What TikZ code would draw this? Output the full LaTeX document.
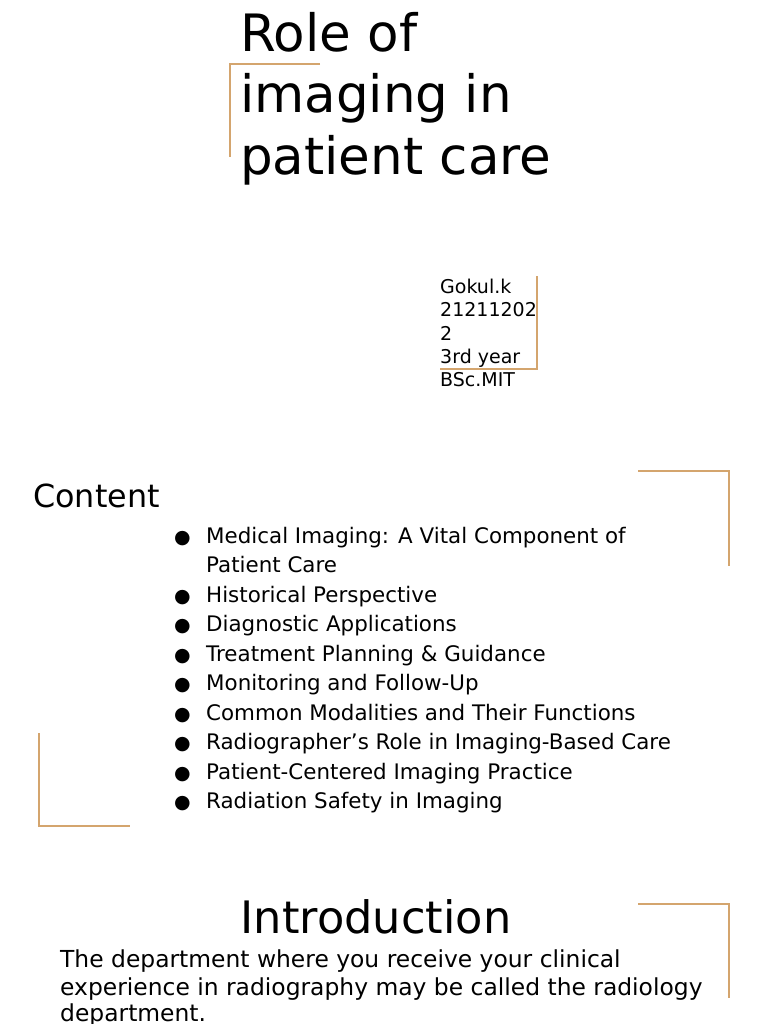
\documentclass[tikz,border=0pt]{standalone}
\usepackage{fontspec}
\setmainfont{DejaVu Sans}
\definecolor{tan}{RGB}{212,165,110}
\begin{document}
\begin{tikzpicture}[x=1pt,y=-1pt,
  brk/.style={draw=tan,line width=1.3pt},
  txt/.style={anchor=base west,inner sep=0pt}]
\useasboundingbox (0,0) rectangle (768,1024);
\clip (0,0) rectangle (768,1024);
% title
\node[txt,font=\fontsize{51.5}{61}\selectfont] (t1) at (240,52) {Role of};
\node[txt,font=\fontsize{51.5}{61}\selectfont] (t2) at (240,113) {imaging in};
\node[txt,font=\fontsize{51.5}{61}\selectfont] (t3) at (240,175) {patient care};
\draw[brk] (320,64) -- (230,64) -- (230,157);
% author
\foreach \t/\y [count=\i] in {Gokul.k/293,21211202/316,2/340,3rd year/363,BSc.MIT/386}
  \node[txt,font=\fontsize{19}{23}\selectfont] (a\i) at (440,\y) {\t};
\draw[brk] (537,276) -- (537,369) -- (440,369);
% content
\node[txt,font=\fontsize{31.8}{35}\selectfont] (c) at (33,507) {Content};
\draw[brk] (638,471) -- (729,471) -- (729,566);
\foreach \t/\y [count=\i] in {Medical Imaging: A Vital Component of/543,Historical Perspective/602,Diagnostic Applications/631,Treatment Planning \& Guidance/661,Monitoring and Follow-Up/690,Common Modalities and Their Functions/720,Radiographer’s Role in Imaging-Based Care/749,Patient-Centered Imaging Practice/779,Radiation Safety in Imaging/808}{
  \node[txt,font=\fontsize{21.4}{25}\selectfont] (b\i) at (206,\y) {\t};
  \node[txt,font=\fontsize{19}{25}\selectfont] (d\i) at (174,\y) {●};}
\node[txt,font=\fontsize{21.4}{25}\selectfont] (b1b) at (206,572) {Patient Care};
\draw[brk] (39,733) -- (39,826) -- (130,826);
% intro
\node[anchor=base,inner sep=0pt,font=\fontsize{44.7}{50}\selectfont] (in) at (376,933) {Introduction};
\draw[brk] (638,904) -- (729,904) -- (729,998);
\foreach \t/\y [count=\i] in {The department where you receive your clinical/967,experience in radiography may be called the radiology/995,department./1021}
  \node[txt,font=\fontsize{23.4}{28}\selectfont] (p\i) at (60,\y) {\t};
\end{tikzpicture}
\end{document}
